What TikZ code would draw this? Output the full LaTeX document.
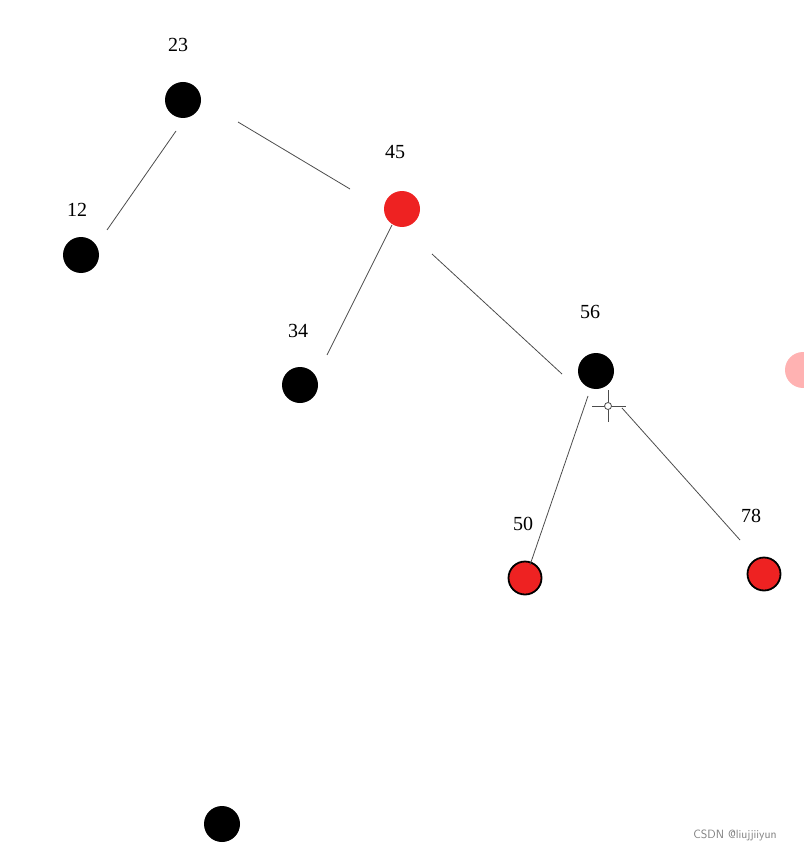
\documentclass[tikz,border=0pt]{standalone}
\usepackage{fontspec}
\setmainfont{Liberation Serif}
\definecolor{nodered}{HTML}{EE2222}
\begin{document}
\begin{tikzpicture}[x=1pt,y=-1pt,
  blk/.style={circle,fill=black,minimum size=36pt,inner sep=0pt},
  redn/.style={circle,fill=nodered,minimum size=36pt,inner sep=0pt},
  redb/.style={circle,fill=nodered,draw=black,line width=1.8pt,minimum size=33pt,inner sep=0pt},
  lab/.style={font=\fontsize{20}{22}\selectfont},
  edge/.style={draw=black!70,line width=0.8pt}]
\useasboundingbox (0,0) rectangle (803,850);
\fill[red!30] (803,370) circle (18);
\node[blk] (n23) at (183,100) {}; \node[lab] at (178,45) {23};
\node[blk] (n12) at (81,255) {}; \node[lab] at (77,210) {12};
\node[redn] (n45) at (402,209) {}; \node[lab] at (395,152) {45};
\node[blk] (n34) at (300,385) {}; \node[lab] at (298,331) {34};
\node[blk] (n56) at (596,371) {}; \node[lab] at (590,312) {56};
\node[redb] (n50) at (525,578) {}; \node[lab] at (523,524) {50};
\node[redb] (n78) at (764,574) {}; \node[lab] at (751,516) {78};
\node[blk] (nb) at (222,824) {};
\coordinate (a1) at (176,131); \coordinate (a2) at (107,230);
\coordinate (b1) at (238,122); \coordinate (b2) at (350,189);
\coordinate (c1) at (392,225); \coordinate (c2) at (327,355);
\coordinate (d1) at (432,254); \coordinate (d2) at (562,374);
\coordinate (e1) at (588,396); \coordinate (e2) at (530,565);
\coordinate (f1) at (622,408); \coordinate (f2) at (740,540);
\draw[edge] (a1)--(a2); \draw[edge] (b1)--(b2); \draw[edge] (c1)--(c2);
\draw[edge] (d1)--(d2); \draw[edge] (e1)--(e2); \draw[edge] (f1)--(f2);
\draw[black!70,line width=0.8pt] (592,406)--(626,406) (608,390)--(608,422);
\draw[black!70,fill=white,line width=0.8pt] (608,406) circle (3.5);
\node[font=\fontsize{12}{14}\selectfont\sffamily,text=black!50] at (735,835) {CSDN @liujjiiyun};
\end{tikzpicture}
\end{document}
